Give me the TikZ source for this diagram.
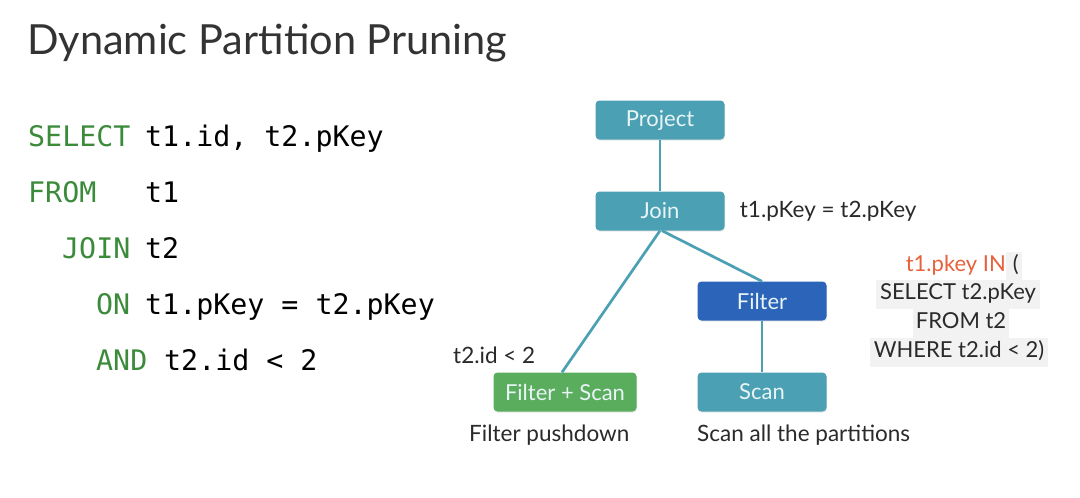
\documentclass[tikz,border=0pt]{standalone}
\usepackage{xcolor}
\usepackage{fontspec}
\setmainfont{Lato}
\newfontfamily\codefont{DejaVu Sans Mono}
\usetikzlibrary{positioning,shadows}

\definecolor{opteal}{HTML}{4BA1B3}
\definecolor{opblue}{HTML}{2B64B8}
\definecolor{opgreen}{HTML}{5BAD5E}
\definecolor{boxtext}{HTML}{E8F4F6}
\definecolor{titlegray}{HTML}{333333}
\definecolor{labeltext}{HTML}{2A2A2A}
\definecolor{codegreen}{HTML}{3B8B3B}
\definecolor{inred}{HTML}{E8613C}
\definecolor{querybg}{HTML}{F2F2F2}

\begin{document}
\begin{tikzpicture}[x=1pt,y=-1pt,
    op/.style={rounded corners=4pt, minimum width=129pt, minimum height=39pt,
        text=boxtext, font=\fontsize{22}{26}\selectfont,
        drop shadow={opacity=0.18, shadow xshift=0.6pt, shadow yshift=-1.2pt}},
    edge/.style={opteal, line width=2.7pt},
    lbl/.style={inner sep=0pt, text=labeltext, font=\fontsize{22.5}{26}\selectfont},
    qline/.style={fill=querybg, inner xsep=4pt, inner ysep=4.5pt,
        text height=15pt, text depth=5pt, text=labeltext,
        font=\fontsize{22}{26}\selectfont},
    kw/.style={anchor=base west, inner sep=0pt, text=codegreen,
        font=\codefont\fontsize{28.3}{31}\selectfont},
    code/.style={kw, text=black}]

    % page
    \fill[white] (0,0) rectangle (1080,498);
    \useasboundingbox (0,0) rectangle (1080,498);

    % title
    \node[anchor=base west, inner sep=0pt, text=titlegray,
        font=\fontsize{41.5}{46}\selectfont] (title) at (27,54) {Dynamic Partition Pruning};

    % SQL query
    \node[kw] (kw1) at (28,146) {SELECT};
    \node[code] (code1) at (145,146) {t1.id, t2.pKey};
    \node[kw] (kw2) at (28,202) {FROM};
    \node[code] (code2) at (145,202) {t1};
    \node[kw] (kw3) at (62,258) {JOIN};
    \node[code] (code3) at (145,258) {t2};
    \node[kw] (kw4) at (96,314) {ON};
    \node[code] (code4) at (145,314) {t1.pKey = t2.pKey};
    \node[kw] (kw5) at (96,370) {AND};
    \node[code] (code5) at (164,370) {t2.id < 2};

    % plan tree
    \node[op, fill=opteal] (project) at (660,120) {Project};
    \node[op, fill=opteal] (join) at (660,211) {Join};
    \node[op, fill=opblue] (filter) at (762,301) {Filter};
    \node[op, fill=opgreen, minimum width=143pt] (fscan) at (565,392) {Filter + Scan};
    \node[op, fill=opteal] (scan) at (762,392) {Scan};

    \draw[edge] (project) -- (join);
    \draw[edge] (join.south) -- ([xshift=-3pt]fscan.north);
    \draw[edge] ([xshift=2pt]join.south) -- (filter.north);
    \draw[edge] (filter) -- (scan);

    % labels
    \node[lbl, right=15pt of join] (joincond) {t1.pKey = t2.pKey};
    \node[lbl, anchor=west] (pushcond) at (453,355) {t2.id < 2};
    \node[lbl, anchor=west] (pushnote) at (469,435) {Filter pushdown};
    \node[lbl, anchor=west] (scannote) at (697,435) {Scan all the partitions};

    % injected subquery
    \node[lbl, anchor=base east, text=inred, font=\fontsize{22}{26}\selectfont]
        (q1) at (1006,271) {t1.pkey IN};
    \node[qline, anchor=base west, inner xsep=3pt] (q1p) at (q1.base east) {\,(};
    \node[qline] (q2) at (958,294) {SELECT t2.pKey};
    \node[qline, inner xsep=3pt] (q3) at (961,323) {FROM t2};
    \node[qline] (q4) at (959,352) {WHERE t2.id < 2)};

\end{tikzpicture}
\end{document}
